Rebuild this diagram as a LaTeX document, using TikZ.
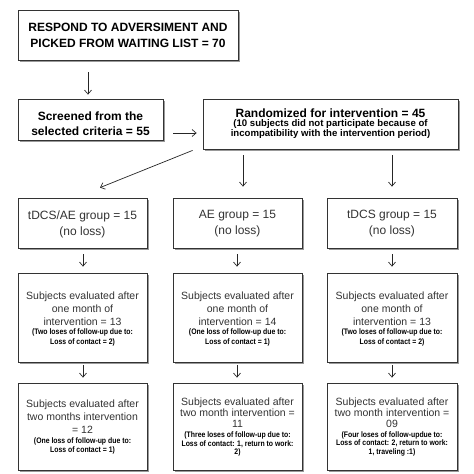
\documentclass[tikz,border=0pt]{standalone}
\usepackage{fontspec}
\setmainfont{Liberation Sans}
\newfontfamily\narrowfont[FakeStretch=0.86]{Liberation Sans}
\usetikzlibrary{arrows.meta,shadows,calc}
\begin{document}
\begin{tikzpicture}[x=1pt,y=-1pt,
 box/.style={draw=black!80, line width=0.8pt, fill=white, drop shadow={shadow xshift=1.5pt,shadow yshift=-2pt,fill=black!40,opacity=1}, inner sep=0pt},
 arr/.style={draw=black!85, line width=0.7pt, -{Straight Barb[length=4pt,width=7pt]}},
 hd/.style={inner sep=0pt, align=center, font=\bfseries\fontsize{12}{16}\selectfont},
 nt/.style={inner sep=0pt, align=center, font=\bfseries\fontsize{9.6}{10}\selectfont},
 gr/.style={inner sep=0pt, align=center, text=black!80, font=\fontsize{12}{16}\selectfont},
 tx/.style={inner sep=0pt, align=center, text=black!80, font=\fontsize{10.5}{13}\selectfont},
 txc/.style={inner sep=0pt, align=center, text=black!80, font=\fontsize{10.5}{11}\selectfont},
 sm/.style={inner sep=0pt, align=center, font=\narrowfont\bfseries\fontsize{8}{9.5}\selectfont},
 smc/.style={inner sep=0pt, align=center, font=\narrowfont\bfseries\fontsize{8}{8.5}\selectfont},
]
\path[fill=white] (0,0) rectangle (474,474);
\useasboundingbox (0,0) rectangle (474,474);

% top
\node[box, minimum width=220pt, minimum height=50pt] (b1) at (128,35) {};
\node[hd] (t1) at (128,35) {RESPOND TO ADVERSIMENT AND\\PICKED FROM WAITING LIST = 70};

\node[box, minimum width=145pt, minimum height=41pt] (b2) at (90.5,119.5) {};
\node[hd, font=\bfseries\fontsize{12}{15}\selectfont] (t2) at (90.5,123.5) {Screened from the\\selected criteria = 55};

\node[box, minimum width=255pt, minimum height=50pt] (b3) at (330.5,124) {};
\node[hd] (t3) at (330.5,113) {Randomized for intervention = 45};
\node[nt] (n3) at (330.5,129) {(10 subjects did not participate because of\\incompatibility with the intervention period)};

% row 3
\node[box, minimum width=129pt, minimum height=50pt] (gA) at (82.5,223) {};
\node[box, minimum width=129pt, minimum height=50pt] (gB) at (237.5,223) {};
\node[box, minimum width=130pt, minimum height=50pt] (gC) at (392,223) {};
\node[gr] (tgA) at (82.5,224) {tDCS/AE group = 15\\(no loss)};
\node[gr] (tgB) at (237.5,224) {AE group = 15\\(no loss)};
\node[gr] (tgC) at (392,224) {tDCS group = 15\\(no loss)};

% row 4
\node[box, minimum width=129pt, minimum height=89pt] (eA) at (82.5,317.5) {};
\node[box, minimum width=129pt, minimum height=89pt] (eB) at (237.5,317.5) {};
\node[box, minimum width=130pt, minimum height=89pt] (eC) at (392,317.5) {};
\node[tx] (teA) at (82.5,309) {Subjects evaluated after\\one month of\\intervention = 13};
\node[sm] (neA) at (82.5,337.5) {(Two loses of follow-up due to:\\Loss of contact = 2)};
\node[tx] (teB) at (237.5,309) {Subjects evaluated after\\one month of\\intervention = 14};
\node[sm] (neB) at (237.5,337.5) {(One loss of follow-up due to:\\Loss of contact = 1)};
\node[tx] (teC) at (392,309) {Subjects evaluated after\\one month of\\intervention = 13};
\node[sm] (neC) at (392,337.5) {(Two loses of follow-up due to:\\Loss of contact = 2)};

% row 5
\node[box, minimum width=129pt, minimum height=87pt] (fA) at (82.5,426.5) {};
\node[box, minimum width=129pt, minimum height=87pt] (fB) at (237.5,426.5) {};
\node[box, minimum width=130pt, minimum height=87pt] (fC) at (392,426.5) {};
\node[tx] (tfA) at (82.5,416.5) {Subjects evaluated after\\two months intervention\\= 12};
\node[sm] (nfA) at (82.5,446) {(One loss of follow-up due to:\\Loss of contact = 1)};
\node[txc] (tfB) at (237.5,413) {Subjects evaluated after\\two month intervention =\\11};
\node[smc] (nfB) at (237.5,444) {(Three loses of follow-up due to:\\Loss of contact: 1, return to work:\\2)};
\node[txc] (tfC) at (392,412.5) {Subjects evaluated after\\two month intervention =\\09};
\node[smc] (nfC) at (392,443.5) {(Four loses of follow-updue to:\\Loss of contact: 2, return to work:\\1, traveling :1)};

% arrows
\draw[arr] ($(b1.south -| b2.north)+(-2.5,12)$) -- ($(b2.north)+(-2.5,-4)$);
\draw[arr] ($(b2.east)+(10,13.5)$) -- ($(b3.west)+(-6,9)$);
\draw[arr] ($(b3.south west)+(-10,1)$) -- ($(gA.north)+(17.5,-10)$);
\draw[arr] ($(b3.south -| gB.north)+(5.5,6)$) -- ($(gB.north)+(5.5,-11)$);
\draw[arr] ($(b3.south -| gC.north)+(0,6)$) -- ($(gC.north)+(0,-11)$);

\draw[arr] ($(gA.south)+(0.5,6)$) -- ($(eA.north)+(0.5,-6)$);
\draw[arr] ($(gB.south)+(-0.5,6)$) -- ($(eB.north)+(-0.5,-6)$);
\draw[arr] ($(gC.south)+(0,6)$) -- ($(eC.north)+(0,-6)$);

\draw[arr] ($(eA.south)+(0.5,3)$) -- ($(fA.north)+(0.5,-5)$);
\draw[arr] ($(eB.south)+(-0.5,3)$) -- ($(fB.north)+(-0.5,-5)$);
\draw[arr] ($(eC.south)+(0,3)$) -- ($(fC.north)+(0,-5)$);
\end{tikzpicture}
\end{document}
